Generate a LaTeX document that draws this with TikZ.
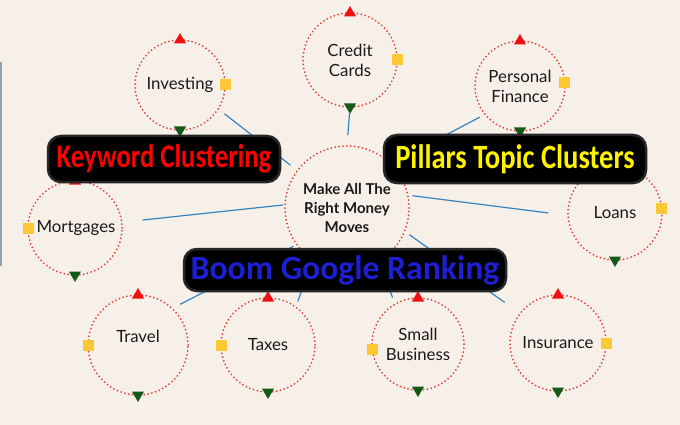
\documentclass[tikz,border=0pt]{standalone}
\usepackage{fontspec}
\setmainfont{Lato}
\newfontfamily\ovK[FakeStretch=0.81]{Carlito}
\newfontfamily\ovP[FakeStretch=0.84]{Carlito}
\newfontfamily\ovB[FakeStretch=0.99]{Carlito}
\usetikzlibrary{shapes.geometric}
\definecolor{bg}{HTML}{F6F0E9}
\definecolor{dotred}{HTML}{E4413A}
\definecolor{tred}{HTML}{F01010}
\definecolor{tgreen}{HTML}{145A14}
\definecolor{sqyellow}{HTML}{FCC935}
\definecolor{linkblue}{HTML}{3584C2}
\definecolor{ink}{HTML}{1A1A1A}
\definecolor{edgegray}{HTML}{8EA2BA}
\definecolor{boomblue}{HTML}{1E1ED2}
\newcommand\mymarks[2]{%
  \node[trired] (#1-t) at (#1.north) {};
  \node[trigreen] (#1-b) at (#1.south) {};
  \node[sqmark] (#1-s) at (#1.#2) {};}
\begin{document}
\begin{tikzpicture}[x=1pt,y=-1pt,
  sat/.style={circle, draw=dotred, line width=2pt, dash pattern=on 0pt off 3.9pt,
    line cap=round, minimum size=#1, inner sep=0pt, outer sep=0pt,
    font=\fontsize{16.8}{20}\selectfont, align=center, text=ink},
  trired/.style={regular polygon, regular polygon sides=3, minimum size=14pt,
    inner sep=0pt, fill=tred},
  trigreen/.style={regular polygon, regular polygon sides=3, minimum size=14pt,
    inner sep=0pt, fill=tgreen, shape border rotate=180},
  sqmark/.style={rectangle, minimum size=11pt, inner sep=0pt, fill=sqyellow},
  link/.style={draw=linkblue, line width=1.2pt},
  banner/.style={rectangle, rounded corners=13pt, fill=black, draw=black!85,
    line width=2.5pt, inner sep=0pt, align=center}]
\useasboundingbox (0,0) rectangle (680,425);
\fill[bg] (0,0) rectangle (680,425);
\draw[edgegray, line width=2pt] (1,62) -- (1,266);

% circles
\node[sat=124, font=\fontsize{15}{19}\bfseries] (ctr) at (347,208) {Make All The\\Right Money\\Moves};
\node[sat=90] (inv) at (180,85) {Investing};
\node[sat=94] (cc) at (350,60) {Credit\\Cards};
\node[sat=90] (pf) at (520,86) {Personal\\Finance};
\node[sat=94] (loans) at (615,213) {Loans};
\node[sat=94] (mort) at (75,228) {\hspace*{2pt}Mortgages};
\node[sat=100] (trav) at (138,345) {Travel\\[-3pt]\mbox{}};
\node[sat=94] (tax) at (268,345) {Taxes};
\node[sat=92] (sb) at (418,344) {Small\\Business};
\node[sat=96] (ins) at (558,343) {Insurance};

\mymarks{inv}{0}
\mymarks{cc}{0}
\mymarks{pf}{4}
\mymarks{loans}{5}
\mymarks{mort}{180}
\mymarks{trav}{180}
\mymarks{tax}{180}
\mymarks{sb}{187}
\mymarks{ins}{0}

% connectors
\draw[link, shorten <=9pt, shorten >=8pt] (ctr.143) -- (inv.328);
\draw[link, shorten <=11pt, shorten >=5pt] (ctr.90) -- (cc.270);
\draw[link, shorten <=8pt, shorten >=6pt] (ctr.45) -- (pf.219);
\draw[link, shorten <=5pt, shorten >=20pt] (ctr.12) -- (loans.183);
\draw[link, shorten <=2pt, shorten >=21pt] (ctr.177) -- (mort.7);
\draw[link, shorten <=4pt, shorten >=9pt] (ctr.216) -- (trav.47);
\draw[link, shorten <=2pt, shorten >=6pt] (ctr.237) -- (tax.54);
\draw[link, shorten <=0pt, shorten >=7pt] (ctr.301) -- (sb.120);
\draw[link, shorten <=6pt, shorten >=19pt] (ctr.338) -- (ins.142);

% banners
\node[banner, minimum width=232pt, minimum height=46pt, text=red,
  font=\ovK\bfseries\fontsize{33}{36}\selectfont] (kw) at (164,159) {Keyword Clustering};
\node[banner, minimum width=262pt, minimum height=48pt, text=yellow,
  font=\ovP\bfseries\fontsize{34}{36}\selectfont] (pil) at (515,159) {Pillars Topic Clusters};
\node[banner, minimum width=322pt, minimum height=42pt, text=boomblue,
  font=\ovB\bfseries\fontsize{34}{36}\selectfont] (boom) at (345,270) {Boom Google Ranking};
\end{tikzpicture}
\end{document}
